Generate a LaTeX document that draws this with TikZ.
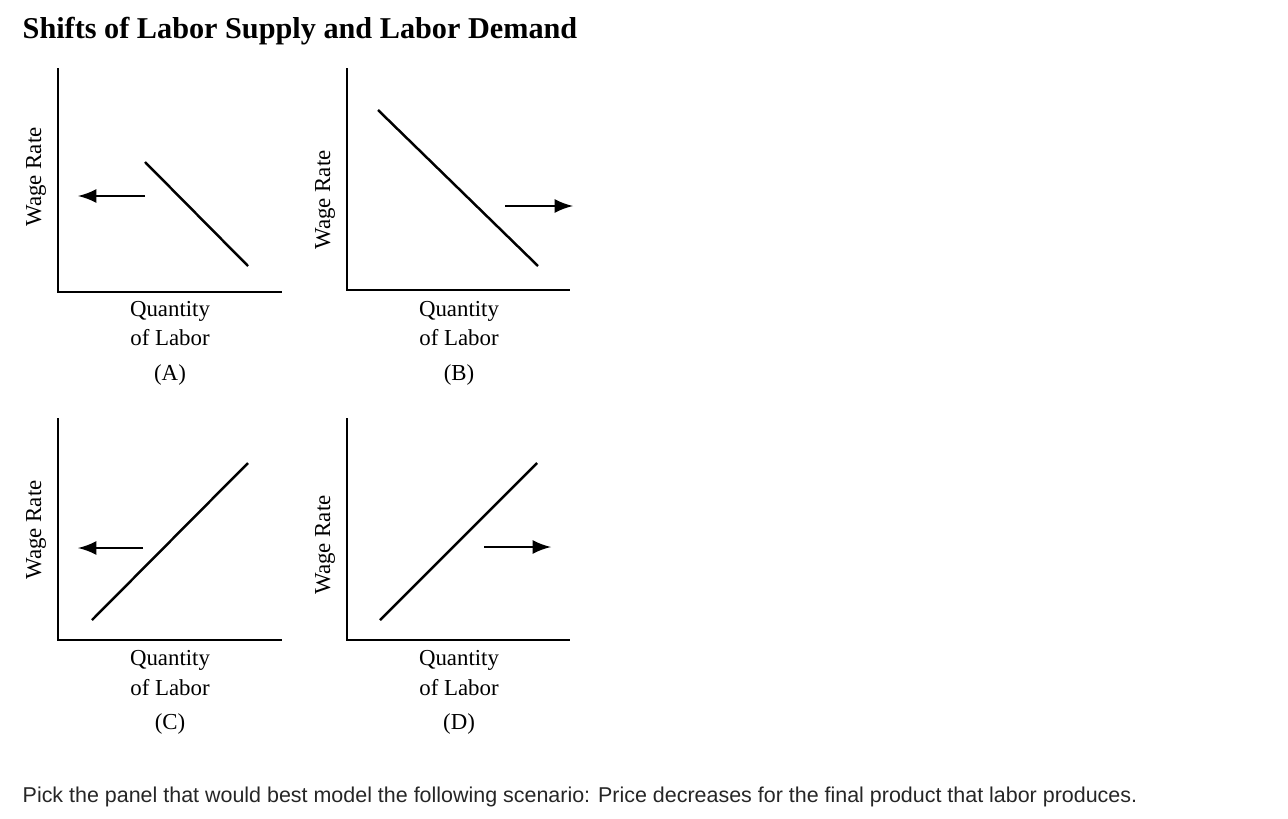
\documentclass[tikz,border=0pt]{standalone}
\usepackage{fontspec}
\setmainfont{Liberation Serif}
\newfontfamily\arialf{Liberation Sans}
\begin{document}
\begin{tikzpicture}[x=0.01cm,y=-0.01cm,
  ax/.style={line width=0.45pt},
  curve/.style={line width=0.7pt},
  shiftarrow/.style={line width=0.8pt,-latex},
  lbl/.style={font=\fontsize{6.5}{7}\selectfont,inner sep=0pt},
  ylbl/.style={lbl,rotate=90}]
\useasboundingbox (0,0) rectangle (1288,818);
\node[anchor=west,inner sep=0pt,font=\fontsize{8.6}{10}\selectfont\bfseries] (title) at (22,31) {Shifts of Labor Supply and Labor Demand};
% Panel A
\coordinate (ao) at (58,292);
\draw[ax] (58,68) -- (ao) -- (282,292);
\coordinate (a1) at (145,162); \coordinate (a2) at (248,266);
\draw[curve] (a1) -- (a2);
\coordinate (as) at (145,196); \coordinate (ae) at (78,196);
\draw[shiftarrow] (as) -- (ae);
\node[ylbl] (ay) at (36,177) {Wage Rate};
\node[lbl] (aq) at (170,311) {Quantity};
\node[lbl] (al) at (170,338) {of Labor};
\node[lbl] (an) at (170,375) {(A)};
% Panel B
\coordinate (bo) at (347,290);
\draw[ax] (347,68) -- (bo) -- (570,290);
\coordinate (b1) at (378,110); \coordinate (b2) at (538,266);
\draw[curve] (b1) -- (b2);
\coordinate (bs) at (505,206); \coordinate (be) at (573,206);
\draw[shiftarrow] (bs) -- (be);
\node[ylbl] (by) at (325,200) {Wage Rate};
\node[lbl] (bq) at (459,311) {Quantity};
\node[lbl] (bl) at (459,338) {of Labor};
\node[lbl] (bn) at (459,375) {(B)};
% Panel C
\coordinate (co) at (58,640);
\draw[ax] (58,418) -- (co) -- (282,640);
\coordinate (c1) at (92,620); \coordinate (c2) at (248,463);
\draw[curve] (c1) -- (c2);
\coordinate (cs) at (143,548); \coordinate (ce) at (78,548);
\draw[shiftarrow] (cs) -- (ce);
\node[ylbl] (cy) at (36,530) {Wage Rate};
\node[lbl] (cq) at (170,660) {Quantity};
\node[lbl] (cl) at (170,688) {of Labor};
\node[lbl] (cn) at (170,724) {(C)};
% Panel D
\coordinate (do) at (347,640);
\draw[ax] (347,418) -- (do) -- (570,640);
\coordinate (d1) at (380,620); \coordinate (d2) at (537,463);
\draw[curve] (d1) -- (d2);
\coordinate (ds) at (484,547); \coordinate (de) at (551,547);
\draw[shiftarrow] (ds) -- (de);
\node[ylbl] (dy) at (325,545) {Wage Rate};
\node[lbl] (dq) at (459,660) {Quantity};
\node[lbl] (dl) at (459,688) {of Labor};
\node[lbl] (dn) at (459,724) {(D)};
\node[anchor=west,inner sep=0pt,font=\arialf\fontsize{6.1}{7}\selectfont,text=black!85] (q) at (22,797) {Pick the panel that would best model the following scenario: Price decreases for the final product that labor produces.};
\end{tikzpicture}
\end{document}
